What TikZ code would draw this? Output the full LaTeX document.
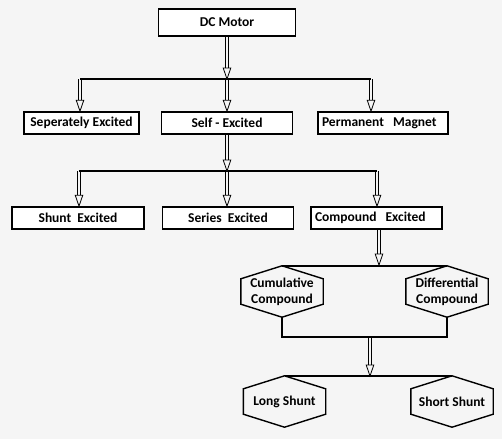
\documentclass[tikz,border=0pt]{standalone}
\usepackage{fontspec}
\setmainfont{Carlito}
\definecolor{dcback}{RGB}{245,245,245}
\newcommand\dctextstyle{\fontsize{13.5}{16}\selectfont\bfseries}
\newcommand\dchexside{13pt}
\newcommand\dcheadlength{11pt}
\newcommand\dcheadwidth{3.8pt}
\newcommand\dcshaftgap{1.8pt}
\tikzset{
  dcbox/.style={draw, line width=1.7pt, fill=white, inner sep=0pt, font=\dctextstyle},
  dcboxleft/.style={dcbox, text width=#1, align=left, inner xsep=4pt},
  dchex/.style={minimum width=82pt, minimum height=51pt, inner sep=0pt, align=center, font=\dctextstyle},
  dcline/.style={line width=1.4pt},
  dcshaft/.style={line width=0.8pt, shorten >=\dcheadlength},
  dchead/.style={line width=0.8pt, fill=dcback, line join=miter},
}
\newcommand\drawhex[1]{
  \draw[line width=1.4pt] (#1.north) -- ([yshift=-\dchexside]#1.north east) -- ([yshift=\dchexside]#1.south east)
    -- (#1.south) -- ([yshift=\dchexside]#1.south west) -- ([yshift=-\dchexside]#1.north west) -- cycle ;
}
\newcommand\dcarrow[2]{
  \draw[dcshaft] ([xshift=-\dcshaftgap]#1) -- ([xshift=-\dcshaftgap]#2) ;
  \draw[dcshaft] ([xshift=\dcshaftgap]#1) -- ([xshift=\dcshaftgap]#2) ;
  \draw[dchead] ([xshift=-\dcheadwidth, yshift=\dcheadlength]#2) -- (#2)
    -- ([xshift=\dcheadwidth, yshift=\dcheadlength]#2) -- cycle ;
}
\begin{document}
\begin{tikzpicture}[x=1pt, y=-1pt]
  \fill[dcback] (0, 0) rectangle (502, 439) ;
  \useasboundingbox (0, 0) rectangle (502, 439) ;

  \node[dcbox, minimum width=137pt, minimum height=27pt] (motor) at (227, 22.5) {DC Motor} ;

  \node[dcbox, minimum width=115pt, minimum height=22pt] (sep) at (81.5, 123) {Seperately Excited} ;
  \node[dcbox, minimum width=131pt, minimum height=22pt] (self) at (227, 123) {Self - Excited} ;
  \node[dcboxleft=122pt, minimum height=22pt] (perm) at (383, 123) {Permanent\ \ Magnet} ;

  \node[dcbox, minimum width=132pt, minimum height=22pt] (shunt) at (78, 218) {Shunt\ \ Excited} ;
  \node[dcbox, minimum width=131pt, minimum height=22pt] (series) at (228, 218) {Series\ \ Excited} ;
  \node[dcboxleft=123pt, minimum height=22pt] (compound) at (376.5, 218) {Compound\ \ Excited} ;

  \node[dchex] (cumul) at (282, 291.5) {Cumulative\\Compound} ;
  \node[dchex] (diff) at (447, 291.5) {Differential\\Compound} ;
  \node[dchex] (long) at (284.5, 401.5) {Long Shunt} ;
  \node[dchex] (short) at (452, 401.5) {Short Shunt} ;
  \drawhex{cumul}
  \drawhex{diff}
  \drawhex{long}
  \drawhex{short}

  \coordinate (busa) at (227, 79) ;
  \coordinate (busaw) at (80, 79) ;
  \coordinate (busae) at (371, 79) ;
  \draw[dcline] (busaw) -- (busae) ;
  \dcarrow{motor.south}{busa}
  \dcarrow{busaw}{busaw |- sep.north}
  \dcarrow{busa}{self.north}
  \dcarrow{busae}{busae |- perm.north}

  \coordinate (busb) at (227, 171) ;
  \coordinate (busbw) at (79, 171) ;
  \coordinate (busbe) at (377, 171) ;
  \draw[dcline] (busbw) -- (busbe) ;
  \dcarrow{self.south}{busb}
  \dcarrow{busbw}{busbw |- shunt.north}
  \dcarrow{busb}{busb |- series.north}
  \dcarrow{busbe}{busbe |- compound.north}

  \coordinate (busc) at (379, 265) ;
  \draw[dcline] (cumul.north) -- (diff.north) ;
  \dcarrow{busc |- compound.south}{busc}

  \coordinate (busd) at (370, 337) ;
  \coordinate (buse) at (370, 376) ;
  \draw[dcline] (cumul.south) -- (cumul.south |- busd) -- (diff.south |- busd) -- (diff.south) ;
  \dcarrow{busd}{buse}
  \draw[dcline] (long.north) -- (short.north) ;
\end{tikzpicture}
\end{document}
